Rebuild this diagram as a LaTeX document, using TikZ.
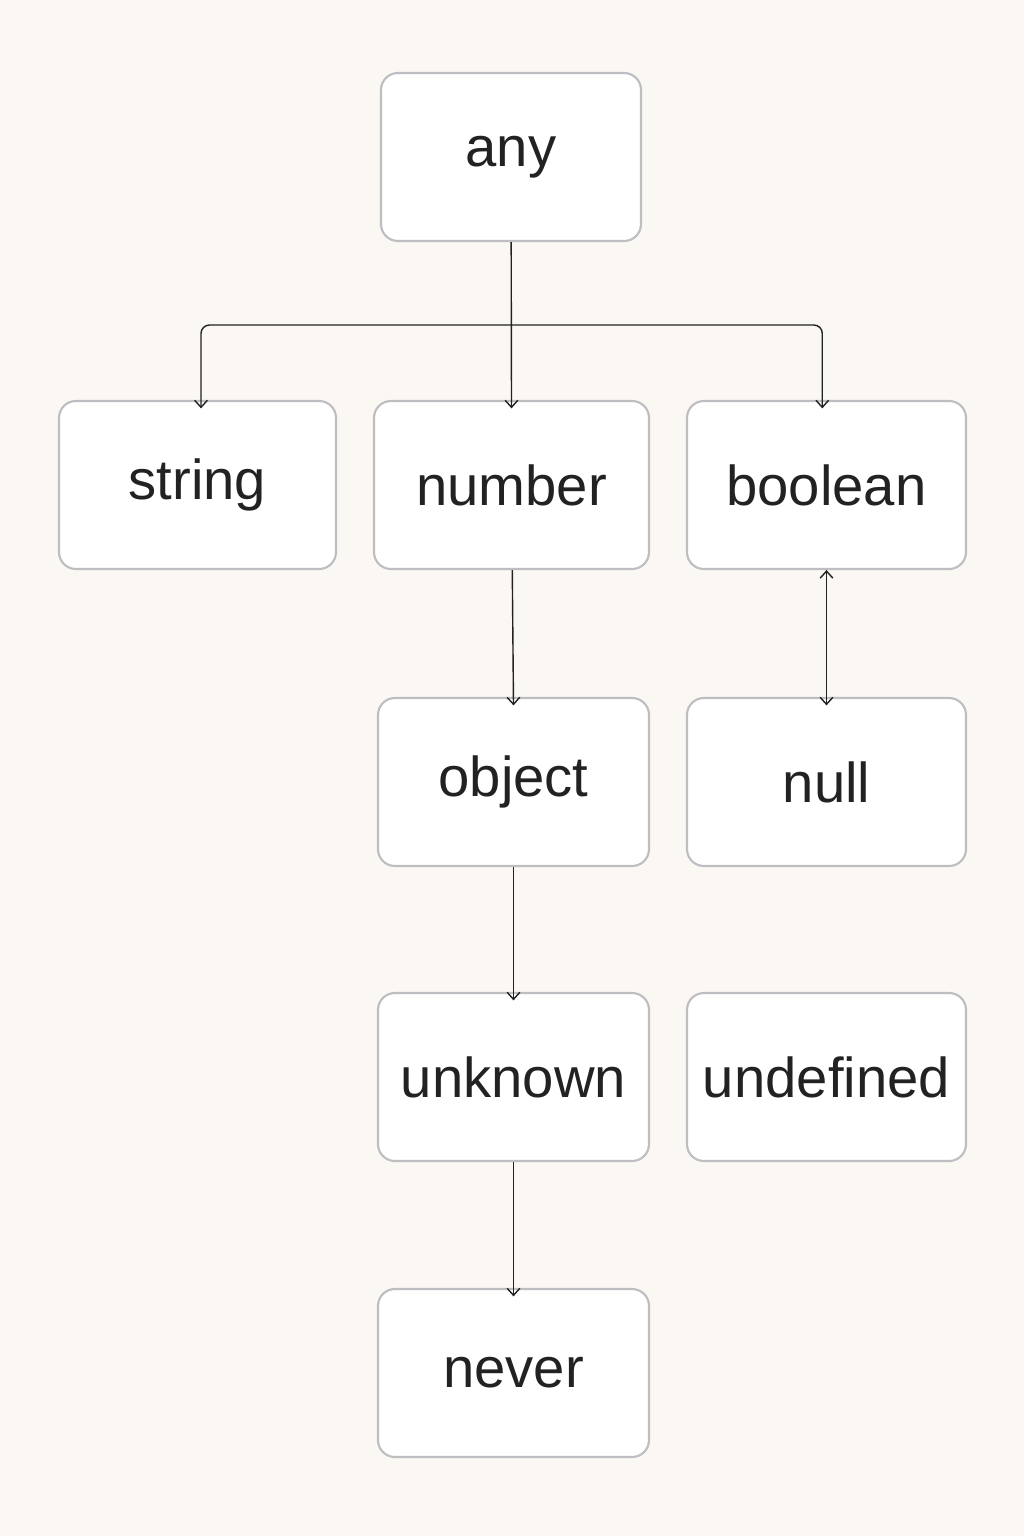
\documentclass[tikz,border=0pt]{standalone}
\usepackage{fontspec}
\setmainfont{Liberation Sans}
\usetikzlibrary{positioning}
\definecolor{bg}{HTML}{FBF8F3}
\definecolor{edgegray}{HTML}{BDBDC2}
\definecolor{ink}{HTML}{222222}
\begin{document}
\begin{tikzpicture}[x=0.025cm,y=-0.025cm,
  type node/.style={rectangle, rounded corners=12pt, draw=edgegray, line width=1.5pt, fill=white,
    minimum height=168*0.025cm, font=\fontsize{40}{48}\selectfont, text=ink},
  link/.style={->, draw=ink, line width=1pt, >={Straight Barb[length=5pt,width=9pt]}}]
  \usetikzlibrary{arrows.meta}
  \fill[bg] (0,0) rectangle (1024,1536);
  \useasboundingbox (0,0) rectangle (1024,1536);

  \node[type node, minimum width=260*0.025cm] (any) at (511,157) {any};
  \node[type node, minimum width=277*0.025cm] (string) at (197.5,485) {string};
  \node[type node, minimum width=275*0.025cm] (number) at (511.5,485) {number};
  \node[type node, minimum width=279*0.025cm] (boolean) at (826.5,485) {boolean};
  \node[type node, minimum width=271*0.025cm] (object) at (513.5,782) {object};
  \node[type node, minimum width=279*0.025cm] (null) at (826.5,782) {null};
  \node[type node, minimum width=271*0.025cm] (unknown) at (513.5,1077) {unknown};
  \node[type node, minimum width=279*0.025cm] (undefined) at (826.5,1077) {undefined};
  \node[type node, minimum width=271*0.025cm] (never) at (513.5,1373) {never};

  \coordinate (split) at (511,325);
  \path[link]
    (any) edge ([yshift=-6pt]number.north)
    (number) edge ([yshift=-6pt]object.north)
    (boolean.south) edge ([yshift=-6pt]boolean.north |- null.north)
    (object) edge ([yshift=-6pt]unknown.north)
    (unknown) edge ([yshift=-6pt]never.north);
  \draw[link, rounded corners=6pt] (split) -| ([xshift=2.5pt,yshift=-6pt]string.north);
  \draw[link, rounded corners=6pt] (split) -| ([xshift=-3pt,yshift=-6pt]boolean.north);
\end{tikzpicture}
\end{document}
